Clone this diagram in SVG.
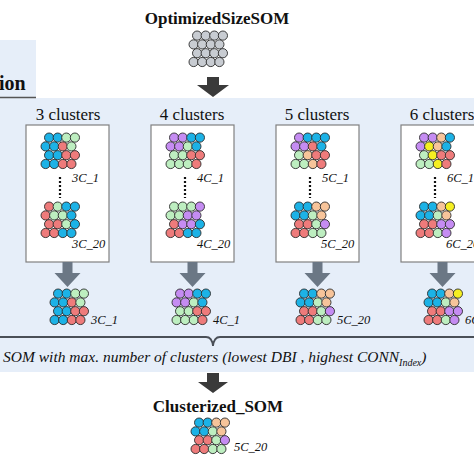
<svg xmlns="http://www.w3.org/2000/svg" xmlns:xlink="http://www.w3.org/1999/xlink" width="474" height="474" viewBox="0 0 474 474">
<style>
circle{stroke:#2b2b2b;stroke-width:0.9}
.b{fill:#1cb2e6}.g{fill:#bdeec0}.r{fill:#ee7b7b}.p{fill:#c58cf2}.o{fill:#f7c49a}.y{fill:#f5ef22}.k{fill:#c8ccd2}
.bold{font-family:"Liberation Serif","Times New Roman",serif;font-weight:bold;fill:#111}
.hdr{font-family:"Liberation Serif","Times New Roman",serif;font-size:17px;fill:#111;text-anchor:middle}
.lbl{font-family:"Liberation Serif","Times New Roman",serif;font-style:italic;font-size:12.5px;fill:#111}
.box{fill:#fff;stroke:#808080;stroke-width:1.2}
.dots{stroke:#111;stroke-width:2.2;stroke-dasharray:2 2}
.garr{fill:#6b7785}
.darr{fill:#3a3a3a}
</style>
<defs>
<g id="gk"><circle class="k" cx="8.1" cy="4.6" r="4.6"/><circle class="k" cx="16.7" cy="4.6" r="4.6"/><circle class="k" cx="25.3" cy="4.6" r="4.6"/><circle class="k" cx="33.9" cy="4.6" r="4.6"/><circle class="k" cx="4.6" cy="13.4" r="4.6"/><circle class="k" cx="13.2" cy="13.4" r="4.6"/><circle class="k" cx="21.8" cy="13.4" r="4.6"/><circle class="k" cx="30.4" cy="13.4" r="4.6"/><circle class="k" cx="8.1" cy="22.2" r="4.6"/><circle class="k" cx="16.7" cy="22.2" r="4.6"/><circle class="k" cx="25.3" cy="22.2" r="4.6"/><circle class="k" cx="33.9" cy="22.2" r="4.6"/><circle class="k" cx="4.6" cy="31" r="4.6"/><circle class="k" cx="13.2" cy="31" r="4.6"/><circle class="k" cx="21.8" cy="31" r="4.6"/><circle class="k" cx="30.4" cy="31" r="4.6"/></g>
<g id="g3c1"><circle class="b" cx="8.1" cy="4.6" r="4.6"/><circle class="b" cx="16.7" cy="4.6" r="4.6"/><circle class="g" cx="25.3" cy="4.6" r="4.6"/><circle class="g" cx="33.9" cy="4.6" r="4.6"/><circle class="b" cx="4.6" cy="13.4" r="4.6"/><circle class="b" cx="13.2" cy="13.4" r="4.6"/><circle class="r" cx="21.8" cy="13.4" r="4.6"/><circle class="g" cx="30.4" cy="13.4" r="4.6"/><circle class="b" cx="8.1" cy="22.2" r="4.6"/><circle class="b" cx="16.7" cy="22.2" r="4.6"/><circle class="r" cx="25.3" cy="22.2" r="4.6"/><circle class="r" cx="33.9" cy="22.2" r="4.6"/><circle class="b" cx="4.6" cy="31" r="4.6"/><circle class="b" cx="13.2" cy="31" r="4.6"/><circle class="r" cx="21.8" cy="31" r="4.6"/><circle class="r" cx="30.4" cy="31" r="4.6"/></g>
<g id="g3c20"><circle class="r" cx="8.1" cy="4.6" r="4.6"/><circle class="g" cx="16.7" cy="4.6" r="4.6"/><circle class="b" cx="25.3" cy="4.6" r="4.6"/><circle class="b" cx="33.9" cy="4.6" r="4.6"/><circle class="r" cx="4.6" cy="13.4" r="4.6"/><circle class="g" cx="13.2" cy="13.4" r="4.6"/><circle class="g" cx="21.8" cy="13.4" r="4.6"/><circle class="b" cx="30.4" cy="13.4" r="4.6"/><circle class="r" cx="8.1" cy="22.2" r="4.6"/><circle class="r" cx="16.7" cy="22.2" r="4.6"/><circle class="g" cx="25.3" cy="22.2" r="4.6"/><circle class="b" cx="33.9" cy="22.2" r="4.6"/><circle class="r" cx="4.6" cy="31" r="4.6"/><circle class="r" cx="13.2" cy="31" r="4.6"/><circle class="b" cx="21.8" cy="31" r="4.6"/><circle class="b" cx="30.4" cy="31" r="4.6"/></g>
<g id="g4c1"><circle class="p" cx="8.1" cy="4.6" r="4.6"/><circle class="p" cx="16.7" cy="4.6" r="4.6"/><circle class="b" cx="25.3" cy="4.6" r="4.6"/><circle class="b" cx="33.9" cy="4.6" r="4.6"/><circle class="p" cx="4.6" cy="13.4" r="4.6"/><circle class="p" cx="13.2" cy="13.4" r="4.6"/><circle class="g" cx="21.8" cy="13.4" r="4.6"/><circle class="b" cx="30.4" cy="13.4" r="4.6"/><circle class="g" cx="8.1" cy="22.2" r="4.6"/><circle class="g" cx="16.7" cy="22.2" r="4.6"/><circle class="r" cx="25.3" cy="22.2" r="4.6"/><circle class="r" cx="33.9" cy="22.2" r="4.6"/><circle class="g" cx="4.6" cy="31" r="4.6"/><circle class="g" cx="13.2" cy="31" r="4.6"/><circle class="g" cx="21.8" cy="31" r="4.6"/><circle class="r" cx="30.4" cy="31" r="4.6"/></g>
<g id="g4c20"><circle class="g" cx="8.1" cy="4.6" r="4.6"/><circle class="g" cx="16.7" cy="4.6" r="4.6"/><circle class="g" cx="25.3" cy="4.6" r="4.6"/><circle class="p" cx="33.9" cy="4.6" r="4.6"/><circle class="g" cx="4.6" cy="13.4" r="4.6"/><circle class="g" cx="13.2" cy="13.4" r="4.6"/><circle class="p" cx="21.8" cy="13.4" r="4.6"/><circle class="p" cx="30.4" cy="13.4" r="4.6"/><circle class="r" cx="8.1" cy="22.2" r="4.6"/><circle class="p" cx="16.7" cy="22.2" r="4.6"/><circle class="p" cx="25.3" cy="22.2" r="4.6"/><circle class="b" cx="33.9" cy="22.2" r="4.6"/><circle class="r" cx="4.6" cy="31" r="4.6"/><circle class="r" cx="13.2" cy="31" r="4.6"/><circle class="b" cx="21.8" cy="31" r="4.6"/><circle class="b" cx="30.4" cy="31" r="4.6"/></g>
<g id="g5c1"><circle class="p" cx="8.1" cy="4.6" r="4.6"/><circle class="b" cx="16.7" cy="4.6" r="4.6"/><circle class="b" cx="25.3" cy="4.6" r="4.6"/><circle class="b" cx="33.9" cy="4.6" r="4.6"/><circle class="p" cx="4.6" cy="13.4" r="4.6"/><circle class="p" cx="13.2" cy="13.4" r="4.6"/><circle class="r" cx="21.8" cy="13.4" r="4.6"/><circle class="b" cx="30.4" cy="13.4" r="4.6"/><circle class="g" cx="8.1" cy="22.2" r="4.6"/><circle class="o" cx="16.7" cy="22.2" r="4.6"/><circle class="r" cx="25.3" cy="22.2" r="4.6"/><circle class="r" cx="33.9" cy="22.2" r="4.6"/><circle class="g" cx="4.6" cy="31" r="4.6"/><circle class="g" cx="13.2" cy="31" r="4.6"/><circle class="o" cx="21.8" cy="31" r="4.6"/><circle class="r" cx="30.4" cy="31" r="4.6"/></g>
<g id="g5c20"><circle class="b" cx="8.1" cy="4.6" r="4.6"/><circle class="b" cx="16.7" cy="4.6" r="4.6"/><circle class="o" cx="25.3" cy="4.6" r="4.6"/><circle class="o" cx="33.9" cy="4.6" r="4.6"/><circle class="b" cx="4.6" cy="13.4" r="4.6"/><circle class="b" cx="13.2" cy="13.4" r="4.6"/><circle class="g" cx="21.8" cy="13.4" r="4.6"/><circle class="o" cx="30.4" cy="13.4" r="4.6"/><circle class="r" cx="8.1" cy="22.2" r="4.6"/><circle class="r" cx="16.7" cy="22.2" r="4.6"/><circle class="g" cx="25.3" cy="22.2" r="4.6"/><circle class="p" cx="33.9" cy="22.2" r="4.6"/><circle class="r" cx="4.6" cy="31" r="4.6"/><circle class="r" cx="13.2" cy="31" r="4.6"/><circle class="g" cx="21.8" cy="31" r="4.6"/><circle class="g" cx="30.4" cy="31" r="4.6"/></g>
<g id="g6c1"><circle class="p" cx="8.1" cy="4.6" r="4.6"/><circle class="p" cx="16.7" cy="4.6" r="4.6"/><circle class="o" cx="25.3" cy="4.6" r="4.6"/><circle class="b" cx="33.9" cy="4.6" r="4.6"/><circle class="p" cx="4.6" cy="13.4" r="4.6"/><circle class="y" cx="13.2" cy="13.4" r="4.6"/><circle class="o" cx="21.8" cy="13.4" r="4.6"/><circle class="b" cx="30.4" cy="13.4" r="4.6"/><circle class="g" cx="8.1" cy="22.2" r="4.6"/><circle class="y" cx="16.7" cy="22.2" r="4.6"/><circle class="r" cx="25.3" cy="22.2" r="4.6"/><circle class="r" cx="33.9" cy="22.2" r="4.6"/><circle class="g" cx="4.6" cy="31" r="4.6"/><circle class="g" cx="13.2" cy="31" r="4.6"/><circle class="y" cx="21.8" cy="31" r="4.6"/><circle class="r" cx="30.4" cy="31" r="4.6"/></g>
<g id="g6c20"><circle class="b" cx="8.1" cy="4.6" r="4.6"/><circle class="b" cx="16.7" cy="4.6" r="4.6"/><circle class="o" cx="25.3" cy="4.6" r="4.6"/><circle class="y" cx="33.9" cy="4.6" r="4.6"/><circle class="b" cx="4.6" cy="13.4" r="4.6"/><circle class="b" cx="13.2" cy="13.4" r="4.6"/><circle class="g" cx="21.8" cy="13.4" r="4.6"/><circle class="o" cx="30.4" cy="13.4" r="4.6"/><circle class="r" cx="8.1" cy="22.2" r="4.6"/><circle class="r" cx="16.7" cy="22.2" r="4.6"/><circle class="p" cx="25.3" cy="22.2" r="4.6"/><circle class="p" cx="33.9" cy="22.2" r="4.6"/><circle class="r" cx="4.6" cy="31" r="4.6"/><circle class="r" cx="13.2" cy="31" r="4.6"/><circle class="g" cx="21.8" cy="31" r="4.6"/><circle class="p" cx="30.4" cy="31" r="4.6"/></g>
</defs>

<rect width="474" height="474" fill="#fff"/>
<g id="background">
<rect x="0" y="40" width="36" height="58" fill="#e6eef9"/>
<rect x="0" y="98" width="474" height="274" fill="#e6eef9"/>
<line x1="0" y1="97.5" x2="36" y2="97.5" stroke="#555" stroke-width="1.5"/>
<text class="bold" x="-1" y="90" font-size="20">ion</text>
</g>

<g id="input-som">
<text class="bold" x="217" y="24" font-size="17" text-anchor="middle">OptimizedSizeSOM</text>
<use xlink:href="#gk" x="189" y="31"/>
</g>

<g id="col-3">
<text class="hdr" x="68" y="120">3 clusters</text>
<rect class="box" x="26" y="125" width="83" height="137"/>
<use xlink:href="#g3c1" x="41" y="133"/>
<text class="lbl" x="72" y="182">3C_1</text>
<line class="dots" x1="60" y1="177" x2="60" y2="198"/>
<use xlink:href="#g3c20" x="41" y="202"/>
<text class="lbl" x="72" y="248">3C_20</text>
</g>
<g id="col-4">
<text class="hdr" x="192" y="120">4 clusters</text>
<rect class="box" x="151" y="125" width="83" height="137"/>
<use xlink:href="#g4c1" x="166" y="133"/>
<text class="lbl" x="197" y="182">4C_1</text>
<line class="dots" x1="185" y1="177" x2="185" y2="198"/>
<use xlink:href="#g4c20" x="166" y="202"/>
<text class="lbl" x="197" y="248">4C_20</text>
</g>
<g id="col-5">
<text class="hdr" x="317" y="120">5 clusters</text>
<rect class="box" x="276" y="125" width="83" height="137"/>
<use xlink:href="#g5c1" x="291" y="133"/>
<text class="lbl" x="322" y="182">5C_1</text>
<line class="dots" x1="310" y1="177" x2="310" y2="198"/>
<use xlink:href="#g5c20" x="291" y="202"/>
<text class="lbl" x="321" y="248">5C_20</text>
</g>
<g id="col-6">
<text class="hdr" x="442" y="120">6 clusters</text>
<rect class="box" x="401" y="125" width="83" height="137"/>
<use xlink:href="#g6c1" x="416" y="133"/>
<text class="lbl" x="447" y="182">6C_1</text>
<line class="dots" x1="435" y1="177" x2="435" y2="198"/>
<use xlink:href="#g6c20" x="416" y="202"/>
<text class="lbl" x="446" y="248">6C_20</text>
</g>

<g id="best-3"><use xlink:href="#g3c1" x="50" y="289"/><text class="lbl" x="91" y="324">3C_1</text></g>
<g id="best-4"><use xlink:href="#g4c1" x="172" y="289"/><text class="lbl" x="213" y="324">4C_1</text></g>
<g id="best-5"><use xlink:href="#g5c20" x="296" y="289"/><text class="lbl" x="337" y="324">5C_20</text></g>
<g id="best-6"><use xlink:href="#g6c20" x="424" y="289"/><text class="lbl" x="465" y="324">6C_20</text></g>

<g id="selection">
<path d="M0,337 H206 Q212,337 213,346 Q214,337 220,337 H474" fill="none" stroke="#4a4f57" stroke-width="1.8"/>
<text x="3" y="362" font-family="Liberation Serif, Times New Roman, serif" font-style="italic" font-size="15.5" fill="#111">SOM with max. number of clusters (lowest DBI , highest CONN<tspan font-size="10" dy="4">Index</tspan><tspan dy="-4">)</tspan></text>
</g>

<g id="result">
<text class="bold" x="218" y="412" font-size="17" text-anchor="middle">Clusterized_SOM</text>
<use xlink:href="#g5c20" x="191" y="418"/>
<text class="lbl" x="234" y="451">5C_20</text>
</g>

<g id="connectors">
<path class="darr" d="M207,77 H219 V85 H229 L213,97 L197,85 H207Z"/>
<path class="garr" d="M62.5,262 H72.5 V273 H80.5 L67.5,287 L54.5,273 H62.5Z"/>
<path class="garr" d="M187.5,262 H197.5 V273 H205.5 L192.5,287 L179.5,273 H187.5Z"/>
<path class="garr" d="M312.5,262 H322.5 V273 H330.5 L317.5,287 L304.5,273 H312.5Z"/>
<path class="garr" d="M437.5,262 H447.5 V273 H455.5 L442.5,287 L429.5,273 H437.5Z"/>
<path class="darr" d="M207,373 H219 V382 H228 L213,393 L198,382 H207Z"/>
</g>
</svg>
